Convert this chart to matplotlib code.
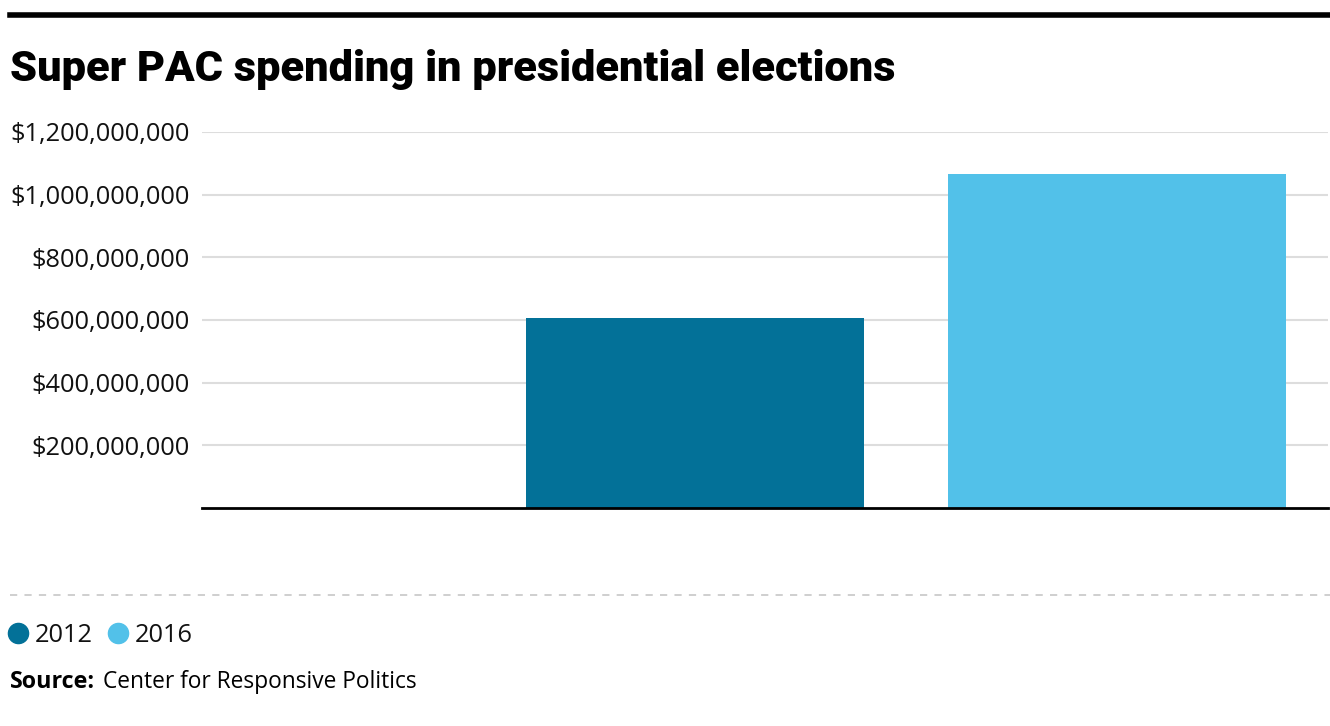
import matplotlib
matplotlib.use("Agg")
import matplotlib.pyplot as plt
from matplotlib.lines import Line2D

years = ["2012", "2016"]
spending = [606_000_000, 1_066_000_000]
colors = ["#037198", "#52c1e9"]
yticks = [200_000_000, 400_000_000, 600_000_000, 800_000_000, 1_000_000_000, 1_200_000_000]
ytick_labels = ["$200,000,000", "$400,000,000", "$600,000,000", "$800,000,000", "$1,000,000,000", "$1,200,000,000"]

W, H = 1330, 726
plt.rcParams['font.family'] = ['Open Sans', 'DejaVu Sans']
fig = plt.figure(figsize=(W / 100, H / 100), dpi=100)
renderer = fig.canvas.get_renderer()

def fx(px): return px / W
def fy(py): return 1 - py / H

def fit(t, target_w):
    w = t.get_window_extent(renderer).width
    t.set_fontsize(t.get_fontsize() * target_w / w)

ax = fig.add_axes([fx(202), fy(508), fx(1328) - fx(202), fy(132) - fy(508)])
x = list(range(len(years)))
ax.bar(x, spending, width=0.8, color=colors, zorder=3)
ax.set_xlim(-1.168, 1.5)
ax.set_ylim(0, 1_200_000_000)
ax.set_yticks(yticks)
ax.set_yticklabels(ytick_labels, fontsize=16, color="#111111")
ax.tick_params(axis='y', length=0, pad=9)
ax.set_xticks([])
ax.grid(axis='y', color="#dddddd", linewidth=1.5, zorder=0)
for s in ['top', 'right', 'left']:
    ax.spines[s].set_visible(False)
ax.spines['bottom'].set_linewidth(2)
ax.spines['bottom'].set_color("#000000")
ax.spines['bottom'].set_zorder(4)

lbls = ax.get_yticklabels()
w = lbls[-1].get_window_extent(renderer).width
fs = 16 * 180 / w
for l in lbls:
    l.set_fontsize(fs)

# top rule
fig.add_artist(Line2D([fx(10), fx(1330)], [fy(15), fy(15)], color="black", linewidth=4))
# title
title = fig.text(fx(10), fy(70), "Super PAC spending in presidential elections", fontsize=30,
                 fontweight='black', family=['Roboto', 'DejaVu Sans'],
                 va='center', ha='left', color="#000000")
fit(title, 885)
# dashed separator
fig.add_artist(Line2D([fx(10), fx(1330)], [fy(595), fy(595)], color="#cccccc",
                      linewidth=1.3, linestyle=(0, (4, 4))))
# legend (manual)
leg_x = [18, 118]
for xi, c, yr in zip(leg_x, colors, years):
    fig.add_artist(Line2D([fx(xi)], [fy(633)], marker='o', markersize=14.5,
                          markerfacecolor=c, markeredgecolor=c, linestyle='none'))
    fig.text(fx(xi + 17), fy(635), yr, fontsize=fs, va='center', ha='left', color="#111111")
# source
src_b = fig.text(fx(10), fy(682), "Source:", fontsize=fs, fontweight='bold', va='center', ha='left')
fit(src_b, 85)
src = fig.text(fx(103), fy(682), "Center for Responsive Politics", fontsize=fs, va='center', ha='left')
fit(src, 314)

fig.savefig("out.png", dpi=100)
